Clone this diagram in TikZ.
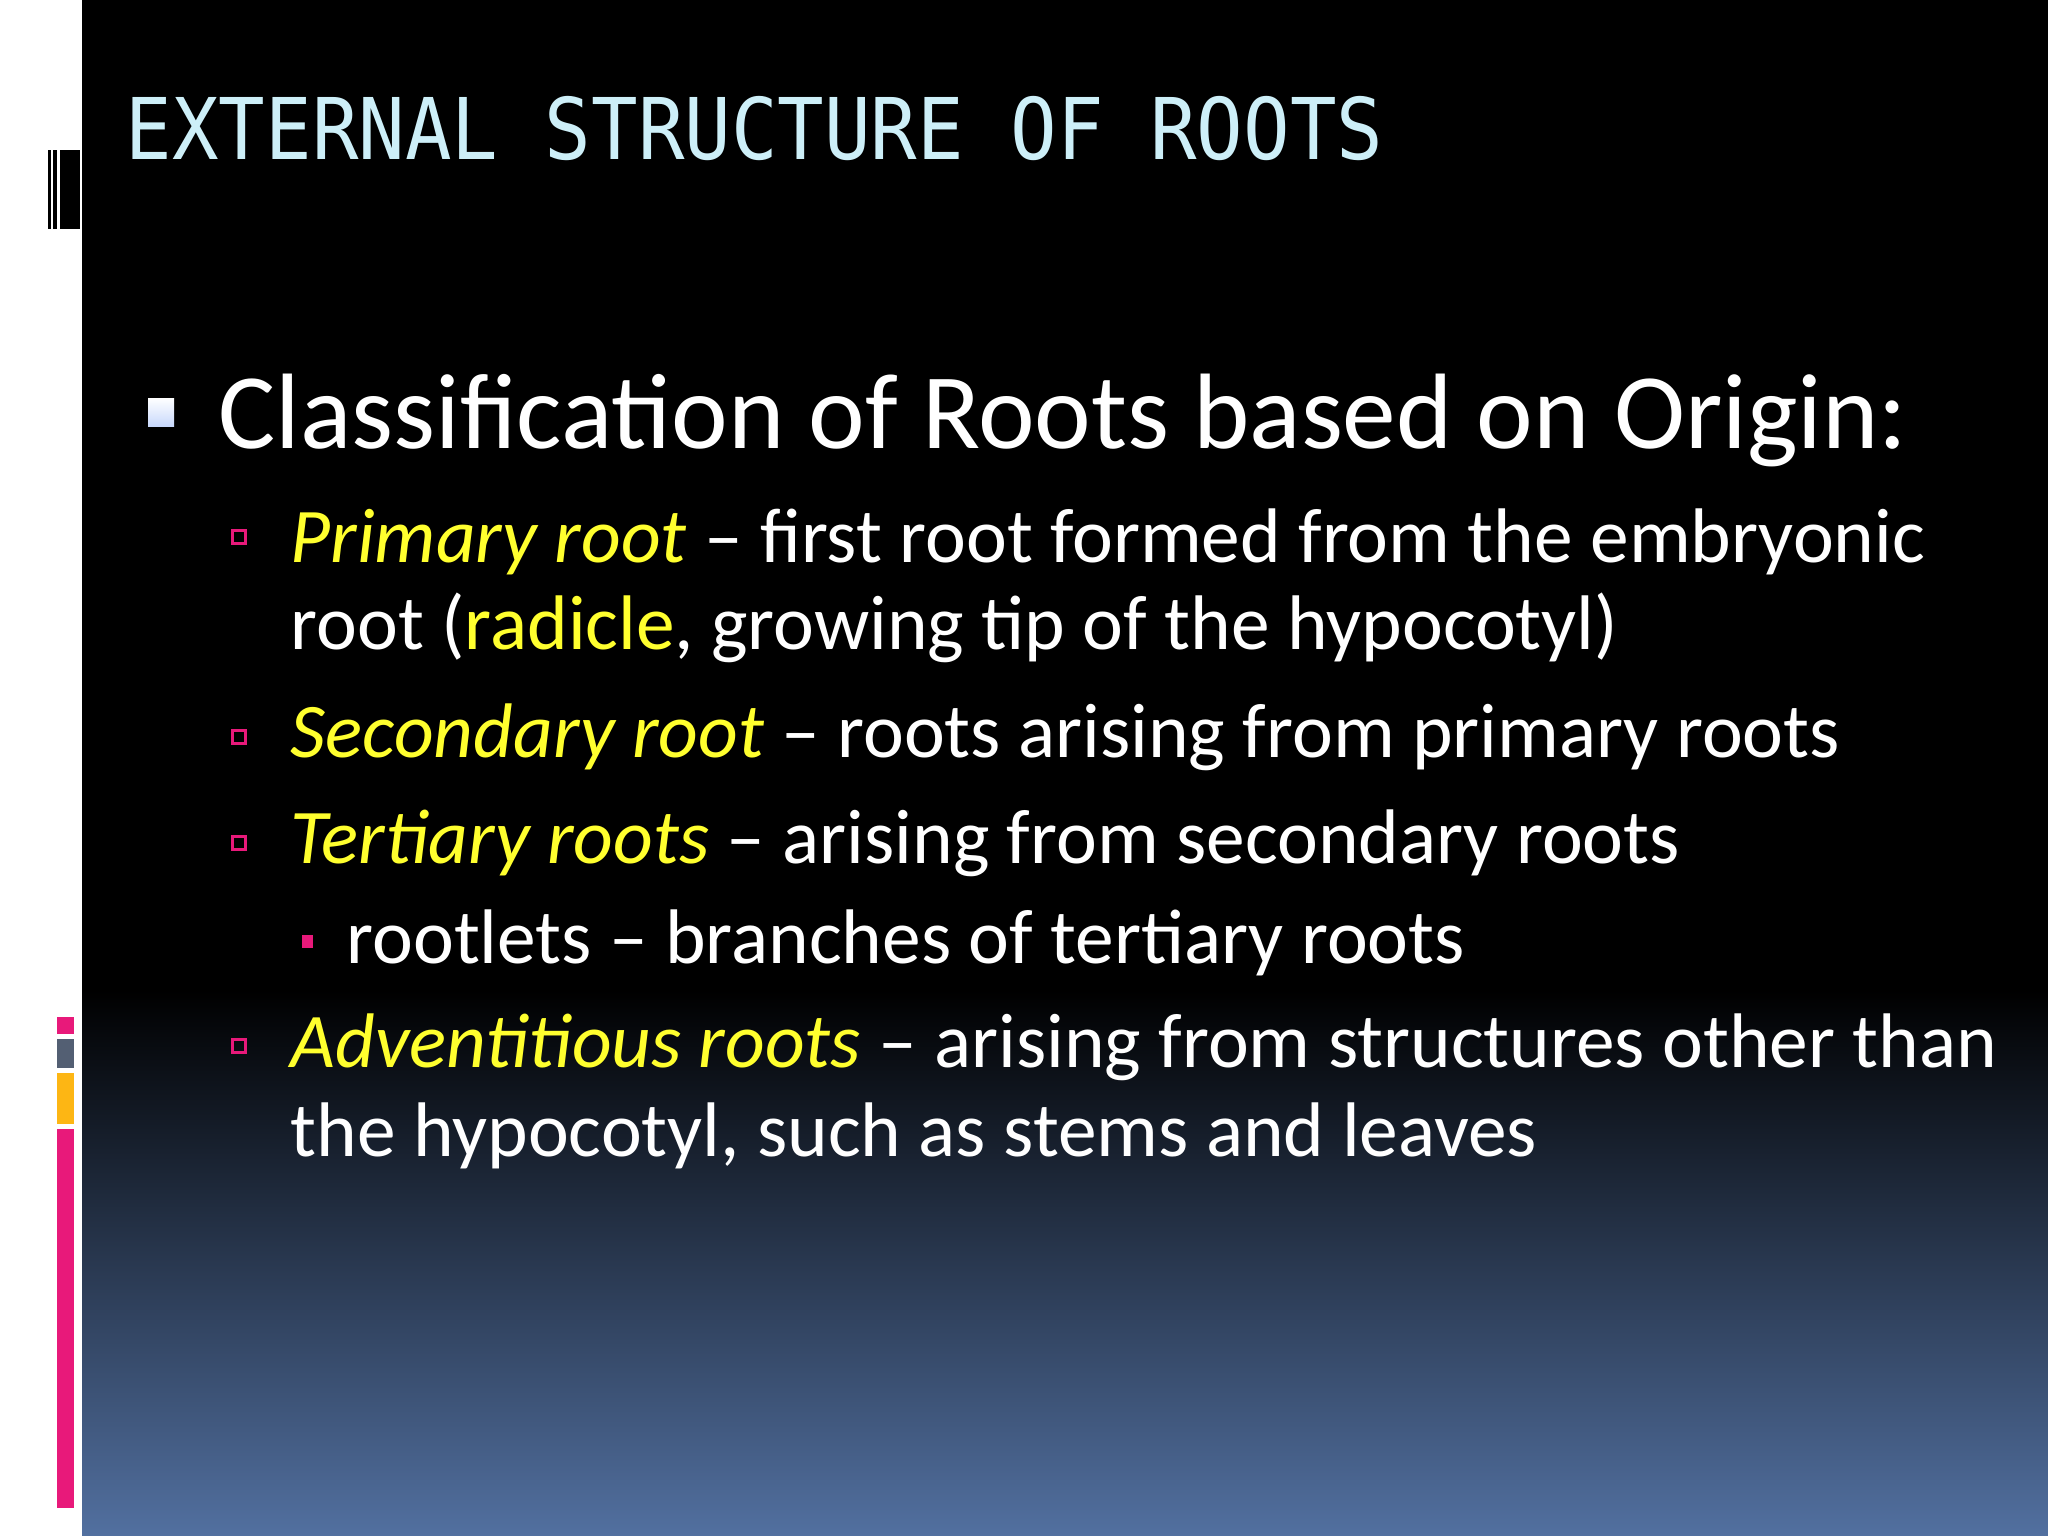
\documentclass[tikz,border=0pt]{standalone}
\usepackage{fontspec}
\setmainfont{Carlito}
\newfontfamily\titlefont{DejaVu Sans Mono}
\definecolor{ttl}{HTML}{CDEFF8}
\definecolor{yel}{HTML}{FFFF2E}
\definecolor{pnk}{HTML}{E8197A}
\definecolor{bluebot}{HTML}{5270A0}
\definecolor{grayblk}{HTML}{535F73}
\definecolor{orng}{HTML}{FDB614}
\tikzset{
  txt/.style={anchor=base west, inner sep=0pt, text=white, font=\fontsize{22pt}{26pt}\selectfont},
  big/.style={anchor=base west, inner sep=0pt, text=white, font=\fontsize{30.5pt}{36pt}\selectfont},
  hl/.style={text=yel},
  sub/.style={draw=pnk, line width=0.03cm, fill=none},
}
\begin{document}
\begin{tikzpicture}[x=0.01cm,y=-0.01cm]
\useasboundingbox (0,0) rectangle (2048,1536);
\fill[white] (0,0) rectangle (82,1536);
\fill[black] (82,0) rectangle (2048,1000);
\shade[top color=black, bottom color=bluebot] (82,990) rectangle (2048,1536);
% left decorations
\foreach \a/\b in {48/51,53/57,60/80}{\fill[black] (\a,150) rectangle (\b,229);}
\fill[pnk] (57,1017) rectangle (74,1034);
\fill[grayblk] (57,1039) rectangle (74,1068);
\fill[orng] (57,1073) rectangle (74,1124);
\fill[pnk] (57,1129) rectangle (74,1508);
% title
\node[anchor=base west, inner sep=0pt, text=ttl, font=\titlefont\fontsize{22pt}{26pt}\selectfont, yscale=1.1] (title) at (125,159) {EXTERNAL STRUCTURE OF ROOTS};
% main bullet
\fill[top color=white, bottom color=ttl!80!blue!60] (148,398) rectangle (174,426);
\node[big] (main) at (218,448) {Classification of Roots based on Origin:};
% sub bullets
\foreach \y in {530,730,836,1039}{\draw[sub] (232,\y) rectangle (245,\y+13);}
\node[txt] (p1) at (290,562) {\textit{\color{yel}Primary root} – first root formed from the embryonic};
\node[txt] (p2) at (290,649) {root (\textcolor{yel}{radicle}, growing tip of the hypocotyl)};
\node[txt] (s1) at (290,757) {\textit{\color{yel}Secondary root} – roots arising from primary roots};
\node[txt] (t1) at (290,863) {\textit{\color{yel}Tertiary roots} – arising from secondary roots};
\fill[pnk] (302,935) rectangle (313,948);
\node[txt] (r1) at (346,963) {rootlets – branches of tertiary roots};
\node[txt] (a1) at (290,1067) {\textit{\color{yel}Adventitious roots} – arising from structures other than};
\node[txt] (a2) at (290,1156) {the hypocotyl, such as stems and leaves};
\end{tikzpicture}
\end{document}
